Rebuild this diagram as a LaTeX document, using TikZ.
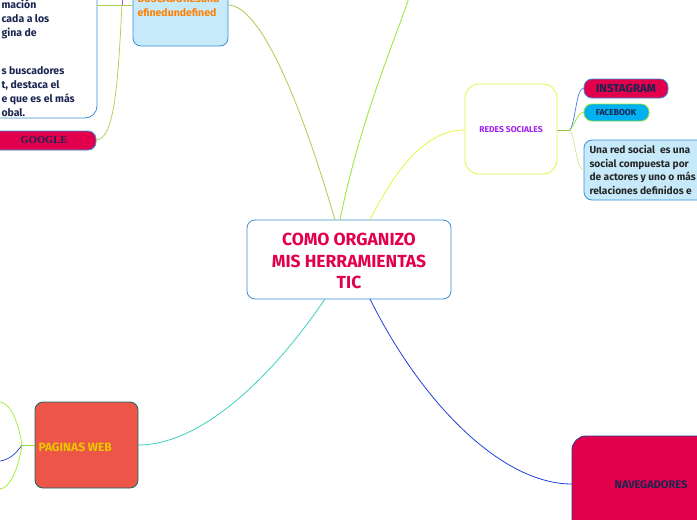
\documentclass[tikz,border=0pt]{standalone}
\usepackage{fontspec}
\setmainfont{Fira Sans}
\newfontfamily\serifb{Liberation Serif}
\begin{document}
\begin{tikzpicture}[x=1pt,y=-1pt,
 bx/.style={draw,rounded corners=8pt,line width=0.8pt},
 t/.style={font=\bfseries\fontsize{10.5}{14}\selectfont,align=left,text=navy}]
\definecolor{navy}{HTML}{1A2550}
\definecolor{crim}{HTML}{E2004C}
\definecolor{bord}{HTML}{3A8FD8}
\definecolor{lblue}{HTML}{C7EAFB}
\definecolor{lg1}{RGB}{155,229,44}
\definecolor{lg2}{RGB}{168,208,74}
\definecolor{yl}{RGB}{232,245,66}
\definecolor{bl}{RGB}{32,64,224}
\definecolor{tl}{RGB}{64,208,192}
\definecolor{pu}{RGB}{170,80,240}
\definecolor{gr}{RGB}{138,226,52}
\definecolor{lg3}{RGB}{155,240,44}
\definecolor{gr2}{RGB}{138,200,60}
\definecolor{bl2}{RGB}{80,120,230}
\definecolor{pg}{RGB}{210,230,150}
\clip (0,0) rectangle (697,520);
\fill[white] (0,0) rectangle (697,520);
\draw[bx,bord,fill=white] (247,220) rectangle (451,299);
\node[font=\bfseries\fontsize{17.5}{21.5}\selectfont,text=crim,align=center] (c) at (349,261) {COMO ORGANIZO\\MIS HERRAMIENTAS\\TIC};
\draw[bx,bord,fill=lblue] (133,-20) rectangle (228,46);
\node[font=\bfseries\fontsize{10.5}{14}\selectfont,text=orange,align=left,anchor=north west] (bus) at (134,-9) {BUSCADORESund\\efinedundefined};
\draw[bx,bord,fill=white,rounded corners=12pt] (-60,-40) rectangle (97,118);
\node[t,anchor=north west] (txt) at (-2,-4) {mación\\cada a los\\gina de\\[24pt]s buscadores\\t, destaca el\\e que es el más\\obal.};
\draw[bx,bord,fill=crim] (-40,131) rectangle (96,150);
\node[font=\serifb\bfseries\fontsize{10.5}{10}\selectfont,text=navy] (g) at (44,140.5) {GOOGLE};
\draw[bx,draw=yl,fill=white,rounded corners=14pt] (465,84) rectangle (557,174);
\node[font=\bfseries\fontsize{8.5}{7}\selectfont,text={rgb,255:red,160;green,32;blue,240}] (rs) at (511,130) {REDES SOCIALES};
\draw[bx,bord,fill=crim] (584,79) rectangle (668,98);
\node[font=\bfseries\fontsize{11.5}{9}\selectfont,text=navy] (ig) at (626,88.5) {INSTAGRAM};
\draw[bx,draw=gr,fill={rgb,255:red,0;green,176;blue,240}] (584,104) rectangle (649,121);
\node[font=\bfseries\fontsize{8.5}{7}\selectfont,text=navy] (fb) at (616,112.5) {FACEBOOK};
\draw[bx,bord,fill=lblue] (584,140) rectangle (740,200);
\node[t,anchor=north west,text=black!85,font=\bfseries\fontsize{10.2}{13.5}\selectfont] (rtx) at (586,142) {Una red social\ \ es una\\social compuesta por\\de actores y uno o más\\relaciones definidos e};
\draw[bx,draw={rgb,255:red,15;green,107;blue,107},fill={rgb,255:red,236;green,85;blue,72}] (35,402) rectangle (138,488);
\node[font=\bfseries\fontsize{12}{9}\selectfont,text={rgb,255:red,232;green,200;blue,0},anchor=west] (pw) at (35,447) {PAGINAS WEB};
\draw[bx,draw={rgb,255:red,40;green,60;blue,140},fill=crim,rounded corners=14pt] (572,436) rectangle (740,560);
\node[font=\bfseries\fontsize{11}{8}\selectfont,text=navy] (nav) at (651,485) {NAVEGADORES};
\coordinate (c1) at (340,220); \coordinate (c2) at (335,220);
\coordinate (c3) at (370,220); \coordinate (c4) at (370,299); \coordinate (c5) at (325,299);
\draw[line width=0.8pt,lg1] (c1) .. controls (360,120) and (395,40) .. (410,-5);
\draw[line width=0.8pt,lg2] (c2) .. controls (300,100) and (260,5) .. (228,5);
\draw[line width=0.8pt,yl] (c3) .. controls (400,160) and (430,130) .. (465,130);
\draw[line width=0.8pt,bl] (c4) .. controls (420,400) and (500,484) .. (572,484);
\draw[line width=0.8pt,tl] (c5) .. controls (270,380) and (200,445) .. (138,445);
\draw[line width=0.7pt,lg2] (133,5) -- (97,5);
\draw[line width=0.7pt,lg2] (122,5) .. controls (118,80) and (115,140) .. (96,140);
\draw[line width=0.7pt,pu] (122,5) -- (122,-5);
\draw[line width=0.7pt,gr] (35,445) -- (22,445);
\draw[line width=0.7pt,lg3] (22,445) .. controls (18,420) and (10,403) .. (0,402);
\draw[line width=0.7pt,bl] (22,445) .. controls (15,455) and (8,460) .. (0,461);
\draw[line width=0.7pt,lg3] (22,445) .. controls (18,470) and (10,488) .. (0,489);
\draw[line width=0.7pt,gr2] (557,130) -- (570,130);
\draw[line width=0.7pt,bl2] (570,130) .. controls (576,120) and (576,88) .. (584,88);
\draw[line width=0.7pt,gr] (570,130) .. controls (576,122) and (578,112) .. (584,112);
\draw[line width=0.7pt,pg] (570,130) .. controls (576,140) and (576,170) .. (584,170);
\end{tikzpicture}
\end{document}
